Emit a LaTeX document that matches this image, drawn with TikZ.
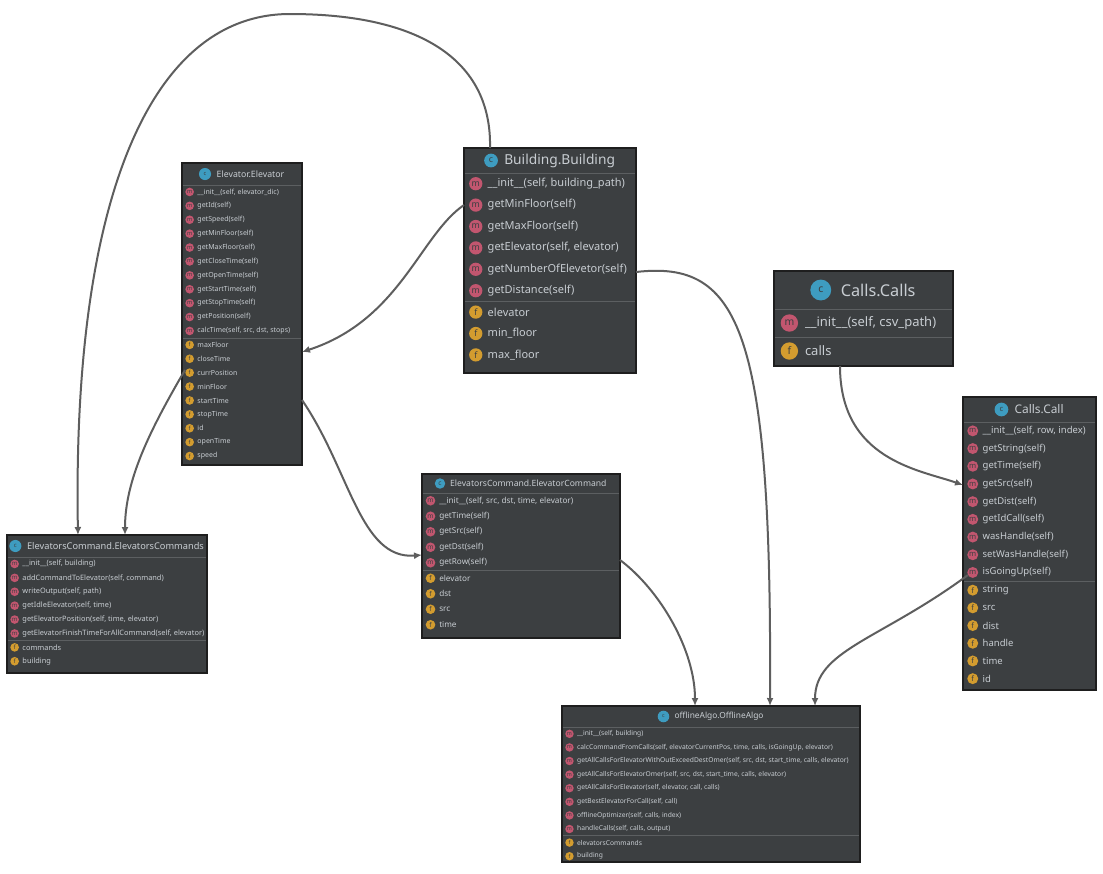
\documentclass[tikz,border=0pt]{standalone}
\usepackage{fontspec}
\setmainfont{Noto Sans}
\usetikzlibrary{arrows.meta}
\definecolor{bg}{HTML}{3C3F41}
\definecolor{bd}{HTML}{1E1E1E}
\definecolor{tx}{HTML}{C8CDD2}
\definecolor{sp}{HTML}{5C5F61}
\definecolor{mc}{HTML}{C2566F}
\definecolor{fc}{HTML}{D39C2F}
\definecolor{cc}{HTML}{3E9CC0}
\definecolor{ar}{HTML}{5E5E5E}
\tikzset{
 classbg/.style={draw=bd,line width=1.5pt,fill=bg,inner sep=0,outer sep=0},
 sepline/.style={draw=sp,line width=0.8pt},
 rowtext/.style={text=tx,inner sep=0,anchor=west},
 iconm/.style={circle,fill=mc,inner sep=0},
 iconf/.style={circle,fill=fc,inner sep=0},
 iconc/.style={circle,fill=cc,inner sep=0},
 conn/.style={draw=ar,line width=2pt,-{Latex[length=8pt,width=7pt]}},
}
\def\tscale{1.25}
\newcommand\classhead[9]{%
 \gdef\bx{#2}\gdef\by{#3}\gdef\bw{#4}\gdef\bth{#6}\gdef\brh{#7}\gdef\bfs{#8}%
 \node[classbg,minimum width=#4,minimum height=#5,anchor=north west] (#1) at (#2,#3) {};
 \draw[sepline] (#2+1,#3+#6) -- ++(#4-2,0);
 \pgfmathsetmacro\tfs{#8*\tscale}%
 \pgfmathsetmacro\tfsh{#8*0.8}%
 \pgfmathsetmacro\icr{#6*0.55}%
 \node[rowtext,anchor=center,font=\fontsize{\tfs}{\tfs}\selectfont] (#1t) at (#2+#4/2+\icr*0.7,#3+#6/2) {#9};
 \node[iconc,minimum size=\icr*1pt] (#1i) at ([xshift=-\icr*0.95]#1t.west) {};
 \node[text=bg,inner sep=0,font=\fontsize{\tfsh}{\tfs}\selectfont\bfseries] at (#1i) {c};
}
\newcommand\rows[3]{%
 \pgfmathsetmacro\icr{\brh*0.62}%
 \pgfmathsetmacro\ifs{\bfs*0.8}%
 \foreach \t [count=\i from #2] in {#3} {
  \pgfmathsetmacro\yy{\by+\bth+(\i-0.5)*\brh}
  \node[icon#1,minimum size=\icr*1pt] at (\bx+\brh*0.55,\yy) {};
  \node[text=bg,inner sep=0,font=\fontsize{\ifs}{\bfs}\selectfont\bfseries] at (\bx+\brh*0.55,\yy) {#1};
  \node[rowtext,font=\fontsize{\bfs}{\bfs}\selectfont] at (\bx+\brh*1.1,\yy) {\t};
 }}
\newcommand\sepat[1]{\draw[sepline] (\bx+1,\by+\bth+#1*\brh) -- ++(\bw-2,0);}
\begin{document}
\begin{tikzpicture}[x=1pt,y=-1pt]
\fill[white] (0,0) rectangle (1103,873);
\useasboundingbox (0,0) rectangle (1103,873);
% Elevator
\classhead{E}{182}{163}{120}{302}{22}{13.9}{7}{Elevator.Elevator}
\rows{m}{1}{\_\_init\_\_(self{,} elevator\_dic),getId(self),getSpeed(self),getMinFloor(self),getMaxFloor(self),getCloseTime(self),getOpenTime(self),getStartTime(self),getStopTime(self),getPosition(self),calcTime(self{,} src{,} dst{,} stops)}
\sepat{11}
\rows{f}{12}{maxFloor,closeTime,currPosition,minFloor,startTime,stopTime,id,openTime,speed}
% Building
\classhead{B}{464}{148}{172}{225}{25}{21.4}{11}{Building.Building}
\rows{m}{1}{\_\_init\_\_(self{,} building\_path),getMinFloor(self),getMaxFloor(self),getElevator(self{,} elevator),getNumberOfElevetor(self),getDistance(self)}
\sepat{6}
\rows{f}{7}{elevator,min\_floor,max\_floor}
% Calls.Calls
\classhead{CS}{774}{271}{179}{95}{38}{28}{13}{Calls.Calls}
\rows{m}{1}{\_\_init\_\_(self{,} csv\_path)}
\sepat{1}
\rows{f}{2}{calls}
% Calls.Call
\classhead{C}{963}{397}{133}{293}{25}{17.7}{9.5}{Calls.Call}
\rows{m}{1}{\_\_init\_\_(self{,} row{,} index),getString(self),getTime(self),getSrc(self),getDist(self),getIdCall(self),wasHandle(self),setWasHandle(self),isGoingUp(self)}
\sepat{9}
\rows{f}{10}{string,src,dist,handle,time,id}
% ElevatorCommand
\def\tscale{1.05}
\classhead{EC}{422}{474}{198}{164}{19}{15.5}{8.2}{ElevatorsCommand.ElevatorCommand}
\def\tscale{1.25}
\rows{m}{1}{\_\_init\_\_(self{,} src{,} dst{,} time{,} elevator),getTime(self),getSrc(self),getDst(self),getRow(self)}
\sepat{5}
\rows{f}{6}{elevator,dst,src,time}
% ElevatorsCommands
\classhead{ECS}{7}{535}{200}{138}{22}{13.9}{7.4}{ElevatorsCommand.ElevatorsCommands}
\rows{m}{1}{\_\_init\_\_(self{,} building),addCommandToElevator(self{,} command),writeOutput(self{,} path),getIdleElevator(self{,} time),getElevatorPosition(self{,} time{,} elevator),getElevatorFinishTimeForAllCommand(self{,} elevator)}
\sepat{6}
\rows{f}{7}{commands,building}
% OfflineAlgo
\classhead{O}{562}{706}{298}{156}{21}{13.6}{6.7}{offlineAlgo.OfflineAlgo}
\rows{m}{1}{\_\_init\_\_(self{,} building),calcCommandFromCalls(self{,} elevatorCurrentPos{,} time{,} calls{,} isGoingUp{,} elevator),getAllCallsForElevatorWithOutExceedDestOmer(self{,} src{,} dst{,} start\_time{,} calls{,} elevator),getAllCallsForElevatorOmer(self{,} src{,} dst{,} start\_time{,} calls{,} elevator),getAllCallsForElevator(self{,} elevator{,} call{,} calls),getBestElevatorForCall(self{,} call),offlineOptimizer(self{,} calls{,} index),handleCalls(self{,} calls{,} output)}
\sepat{8}
\rows{f}{9}{elevatorsCommands,building}
% connectors
\coordinate (peak) at (290,14);
\draw[conn] ([xshift=26]B.north west) .. controls (492,60) and (420,14) .. (peak) .. controls (150,14) and (72,200) .. ([xshift=71]ECS.north west);
\draw[conn] ([yshift=-57]B.north west) .. controls (420,235) and (400,320) .. ([yshift=-189]E.north east);
\draw[conn] ([xshift=3,yshift=-207]E.north west) .. controls (150,430) and (125,480) .. ([xshift=118]ECS.north west);
\draw[conn] ([yshift=-237]E.north east) .. controls (350,470) and (360,560) .. ([yshift=-81]EC.north west);
\draw[conn] ([yshift=-124]B.north east) .. controls (740,260) and (772,330) .. ([xshift=208]O.north west);
\draw[conn] ([yshift=-86]EC.north east) .. controls (660,590) and (695,650) .. ([xshift=133]O.north west);
\draw[conn] ([xshift=66]CS.south west) .. controls (840,460) and (920,470) .. ([yshift=-88]C.north west);
\draw[conn] ([xshift=5,yshift=-178]C.north west) .. controls (880,640) and (815,650) .. ([xshift=253]O.north west);
\end{tikzpicture}
\end{document}
